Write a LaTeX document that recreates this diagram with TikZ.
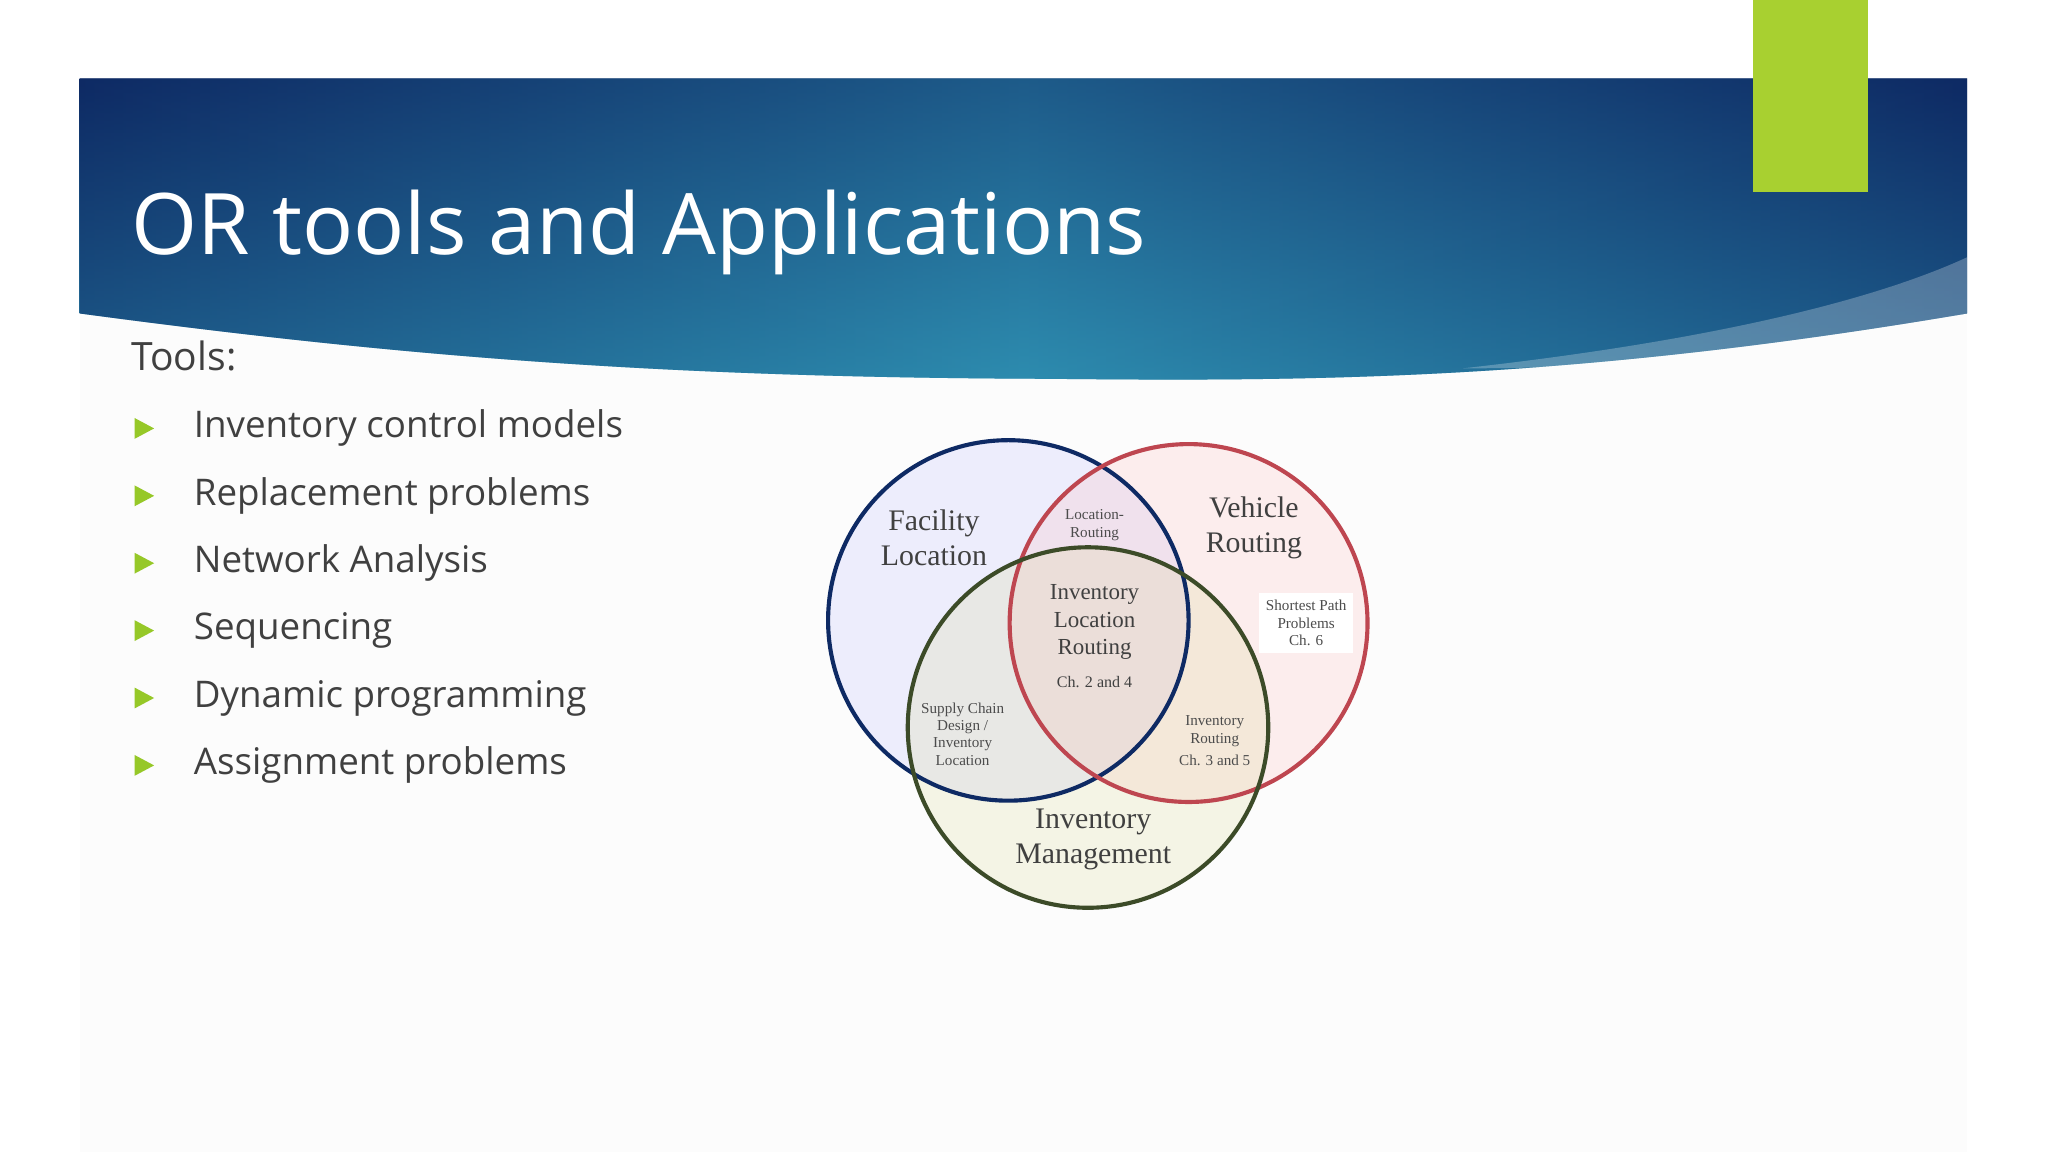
\documentclass[tikz,border=0pt]{standalone}
\usepackage{fontspec}
\setmainfont{Open Sans}
\newfontfamily\serifv{Liberation Serif}
\definecolor{navy}{RGB}{14,42,100}
\definecolor{teal}{RGB}{45,140,175}
\definecolor{bgreen}{RGB}{150,200,40}
\definecolor{lgreen}{RGB}{168,208,48}
\definecolor{vred}{RGB}{190,70,80}
\definecolor{igreen}{RGB}{60,75,40}
\begin{document}
\begin{tikzpicture}[x=1cm,y=1cm,
  item/.style={anchor=west,font=\fontsize{8}{9}\selectfont,text=black!75},
  bul/.style={fill=bgreen},
  vl/.style={font=\serifv\fontsize{6.5}{7.6}\selectfont,align=center,text=black!75,inner sep=0},
  vs/.style={font=\serifv\fontsize{3.3}{3.8}\selectfont,align=center,text=black!70,inner sep=0},
  vm/.style={font=\serifv\fontsize{5}{6}\selectfont,align=center,text=black!75,inner sep=0}]
\useasboundingbox (0,0) rectangle (15.68,8.82);
\fill[white] (0,0) rectangle (15.68,8.82);
\fill[black!1] (0.61,0) rectangle (15.06,8.22);
% band
\path[top color=navy,bottom color=teal] (0.61,8.22) -- (15.06,8.22) -- (15.06,6.42)
  .. controls (12,5.9) and (10,5.9) .. (8,5.92) .. controls (5,5.93) and (3,6.1) .. (0.61,6.42) -- cycle;
\path[left color=navy,right color=navy,middle color=teal,opacity=0.5] (0.61,8.22) -- (15.06,8.22) -- (15.06,6.42)
  .. controls (12,5.9) and (10,5.9) .. (8,5.92) .. controls (5,5.93) and (3,6.1) .. (0.61,6.42) -- cycle;
\fill[white,opacity=0.25] (11.2,6.0) .. controls (13,6.2) and (14.3,6.5) .. (15.06,6.85) -- (15.06,6.42) .. controls (13.5,6.1) and (12.5,6.0) .. (11.2,6.0) -- cycle;
\fill[lgreen] (13.42,7.35) rectangle (14.30,8.82);
\node[anchor=base west,inner sep=0,text=white,font=\fontsize{18.5}{20}\selectfont] (title) at (1.0,6.87) {OR tools and Applications};
\node[anchor=base west,inner sep=0,text=black!75,font=\fontsize{8.5}{10}\selectfont] (tools) at (1.0,5.98) {Tools:};
\foreach \t [count=\i] in {Inventory control models,Replacement problems,Network Analysis,Sequencing,Dynamic programming,Assignment problems}{
  \pgfmathsetmacro\yy{8.82-(3.28+(\i-1)*0.516)}
  \fill[bul] (1.03,\yy+0.08) -- (1.18,\yy) -- (1.03,\yy-0.08) -- cycle;
  \node[item] (it\i) at (1.36,\yy) {\t};
}
% venn
\coordinate (cf) at (7.72,4.07);
\coordinate (cv) at (9.10,4.05);
\coordinate (ci) at (8.33,3.25);
\fill[blue!30,opacity=0.2] (cf) circle (1.38);
\fill[red!30,opacity=0.2] (cv) circle (1.37);
\fill[olive!35,opacity=0.2] (ci) circle (1.38);
\draw[navy,line width=0.9pt] (cf) circle (1.38);
\draw[vred,line width=0.9pt] (cv) circle (1.37);
\draw[igreen,line width=0.9pt] (ci) circle (1.38);
\node[vl] (fl) at (7.15,4.70) {Facility\\Location};
\node[vl] (vr) at (9.60,4.78) {Vehicle\\Routing};
\node[vl] (im) at (8.37,2.39) {Inventory\\Management};
\node[vs] (lr) at (8.38,4.80) {Location-\\Routing};
\node[vm] (ilr) at (8.38,3.95) {Inventory\\Location\\Routing\\[1pt]{\fontsize{3.5}{4}\selectfont Ch. 2 and 4}};
\node[vs] (sc) at (7.37,3.20) {Supply Chain\\Design /\\Inventory\\Location};
\node[vs] (ir) at (9.30,3.15) {Inventory\\Routing\\[1pt]Ch. 3 and 5};
\node[vs,fill=white,inner sep=1.5pt] (sp) at (10.00,4.05) {Shortest Path\\Problems\\Ch. 6};
\end{tikzpicture}
\end{document}
